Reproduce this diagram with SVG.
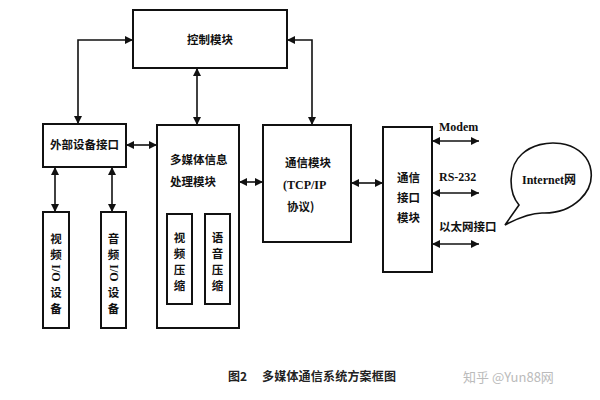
<svg xmlns="http://www.w3.org/2000/svg" width="600" height="400" viewBox="0 0 600 400">
<style>
.box{fill:#fff;stroke:#111;stroke-width:2}
.ln{fill:none;stroke:#111;stroke-width:1.6}
.t{font-family:"Noto Sans CJK SC","Liberation Serif",serif;font-size:11.5px;font-weight:bold;fill:#111}
.lat{font-family:"Liberation Serif","Noto Sans CJK SC",serif;font-size:12px;font-weight:bold;fill:#111}
.c{text-anchor:middle}
</style>
<defs>
<marker id="ah" viewBox="0 0 10 10" refX="10" refY="5" markerWidth="9" markerHeight="8" markerUnits="userSpaceOnUse" orient="auto-start-reverse">
<path d="M0,0 L10,5 L0,10 z" fill="#111"/>
</marker>
</defs>
<rect width="600" height="400" fill="#fff"/>
<g id="connectors">
<path class="ln" d="M133,40 H78 V124" marker-start="url(#ah)" marker-end="url(#ah)"/>
<path class="ln" d="M312,125 V40 H287" marker-start="url(#ah)" marker-end="url(#ah)"/>
<path class="ln" d="M197,68 V125" marker-start="url(#ah)" marker-end="url(#ah)"/>
<path class="ln" d="M126,145 H157" marker-start="url(#ah)" marker-end="url(#ah)"/>
<path class="ln" d="M55,167 V212" marker-start="url(#ah)" marker-end="url(#ah)"/>
<path class="ln" d="M112,167 V212" marker-start="url(#ah)" marker-end="url(#ah)"/>
<path class="ln" d="M239,182 H263" marker-start="url(#ah)" marker-end="url(#ah)"/>
<path class="ln" d="M351,183 H383" marker-start="url(#ah)" marker-end="url(#ah)"/>
<path class="ln" d="M432,141 H479" marker-start="url(#ah)" marker-end="url(#ah)"/>
<path class="ln" d="M432,193 H479" marker-start="url(#ah)" marker-end="url(#ah)"/>
<path class="ln" d="M432,244 H479" marker-start="url(#ah)" marker-end="url(#ah)"/>
</g>
<g id="control">
<rect class="box" x="133" y="10" width="154" height="58"/>
<text class="t c" x="210" y="44">控制模块</text>
</g>
<g id="external">
<rect class="box" x="43" y="124" width="83" height="43"/>
<text class="t c" x="84.5" y="149">外部设备接口</text>
</g>
<g id="video-io">
<rect class="box" x="43" y="212" width="26" height="116"/>
<text class="t c" x="56" y="243">视</text>
<text class="t c" x="56" y="259">频</text>
<text class="lat c" transform="translate(52,273) rotate(90)" x="0" y="0">I/O</text>
<text class="t c" x="56" y="297">设</text>
<text class="t c" x="56" y="313">备</text>
</g>
<g id="audio-io">
<rect class="box" x="101" y="212" width="25" height="116"/>
<text class="t c" x="113.5" y="243">音</text>
<text class="t c" x="113.5" y="259">频</text>
<text class="lat c" transform="translate(109.5,273) rotate(90)" x="0" y="0">I/O</text>
<text class="t c" x="113.5" y="297">设</text>
<text class="t c" x="113.5" y="313">备</text>
</g>
<g id="multimedia">
<rect class="box" x="157" y="125" width="82" height="203"/>
<text class="t" x="170" y="164">多媒体信息</text>
<text class="t" x="170" y="186">处理模块</text>
</g>
<g id="video-comp">
<rect class="box" x="167" y="214" width="25" height="90"/>
<text class="t c" x="179.5" y="242">视</text>
<text class="t c" x="179.5" y="258">频</text>
<text class="t c" x="179.5" y="274">压</text>
<text class="t c" x="179.5" y="290">缩</text>
</g>
<g id="voice-comp">
<rect class="box" x="205" y="214" width="25" height="90"/>
<text class="t c" x="217.5" y="242">语</text>
<text class="t c" x="217.5" y="258">音</text>
<text class="t c" x="217.5" y="274">压</text>
<text class="t c" x="217.5" y="290">缩</text>
</g>
<g id="comm">
<rect class="box" x="263" y="125" width="88" height="117"/>
<text class="t" x="285" y="167">通信模块</text>
<text class="lat" x="283" y="189">(TCP/IP</text>
<text class="t" x="287" y="211">协议)</text>
</g>
<g id="comm-if">
<rect class="box" x="383" y="127" width="49" height="145"/>
<text class="t" x="397" y="182">通信</text>
<text class="t" x="397" y="202">接口</text>
<text class="t" x="397" y="222">模块</text>
</g>
<g id="labels">
<text class="lat" x="439" y="131">Modem</text>
<text class="lat" x="439" y="181">RS-232</text>
<text class="t" x="439" y="231">以太网接口</text>
</g>
<g id="internet">
<path class="ln" d="M519,205 C508,192 508,166 522,154 C542,136 582,140 590,166 C597,192 572,214 542,213 C532,213 522,216 505,225 Z" fill="#fff"/>
<text class="lat c" x="549" y="184">Internet网</text>
</g>
<text x="228" y="381" style="font-family:'Noto Sans CJK SC',serif;font-size:12px;font-weight:bold;fill:#222">图2</text>
<text x="262" y="381" style="font-family:'Noto Sans CJK SC',serif;font-size:12px;font-weight:bold;fill:#222;letter-spacing:0.2px">多媒体通信系统方案框图</text>
<text x="463" y="382" style="font-family:'Noto Sans CJK SC',sans-serif;font-size:13px;fill:#bbb">知乎 @Yun88网</text>
</svg>
